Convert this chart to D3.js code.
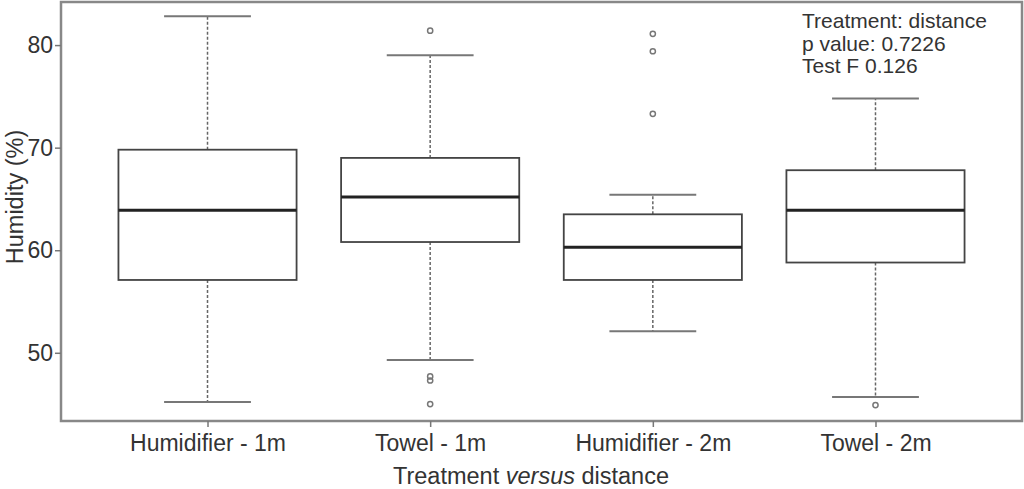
<!DOCTYPE html>
<html>
<head>
<meta charset="utf-8">
<script src="https://d3js.org/d3.v7.min.js"></script>
<style>
  body { margin: 0; background: #fff; }
  text { font-family: "Liberation Sans", Arial, sans-serif; fill: #333; }
</style>
</head>
<body>
<div id="chart"></div>
<script>
// box plot values
var categories = ["Humidifier - 1m", "Towel - 1m", "Humidifier - 2m", "Towel - 2m"];
var whiskerLow  = [45.2, 49.3, 52.1, 45.7];
var q1          = [57.1, 60.8, 57.1, 58.8];
var median      = [63.9, 65.2, 60.3, 63.9];
var q3          = [69.8, 69.0, 63.5, 67.8];
var whiskerHigh = [82.8, 79.0, 65.4, 74.8];
var outliers    = [[], [81.4, 47.7, 47.3, 45.0], [81.1, 79.4, 73.3], [44.9]];
var yTicks = [50, 60, 70, 80];
var yDomain = [43.35, 84.2];
var notes = ["Treatment: distance", "p value: 0.7226", "Test F 0.126"];

var width = 1024, height = 489;
var plot = {left: 61, right: 1022, top: 2, bottom: 421};

var svg = d3.select("#chart").append("svg")
    .attr("width", width)
    .attr("height", height);

var x = d3.scalePoint().domain(categories).range([plot.left, plot.right]).padding(0.658);
var y = d3.scaleLinear().domain(yDomain).range([plot.bottom, plot.top]);
var boxW = x.step() * 0.8;
var capW = x.step() * 0.39;

var boxes = categories.map(function(c, i) {
  return {name: c, lo: whiskerLow[i], q1: q1[i], med: median[i], q3: q3[i], hi: whiskerHigh[i], out: outliers[i]};
});

var g = svg.selectAll(".box")
    .data(boxes)
    .enter().append("g")
    .attr("class", "box")
    .attr("transform", function(d) { return "translate(" + x(d.name) + ",0)"; });

// dotted whiskers
g.append("line")
    .attr("y1", function(d) { return y(d.q3); })
    .attr("y2", function(d) { return y(d.hi); })
    .attr("stroke", "#666").attr("stroke-width", 1.5).attr("stroke-dasharray", "3,2");
g.append("line")
    .attr("y1", function(d) { return y(d.q1); })
    .attr("y2", function(d) { return y(d.lo); })
    .attr("stroke", "#666").attr("stroke-width", 1.5).attr("stroke-dasharray", "3,2");

// whisker caps
g.selectAll(".cap")
    .data(function(d) { return [d.lo, d.hi]; })
    .enter().append("line")
    .attr("class", "cap")
    .attr("x1", -capW / 2).attr("x2", capW / 2)
    .attr("y1", function(v) { return y(v); })
    .attr("y2", function(v) { return y(v); })
    .attr("stroke", "#777").attr("stroke-width", 2);

// box
g.append("rect")
    .attr("x", -boxW / 2)
    .attr("width", boxW)
    .attr("y", function(d) { return y(d.q3); })
    .attr("height", function(d) { return y(d.q1) - y(d.q3); })
    .attr("fill", "#fff")
    .attr("stroke", "#444").attr("stroke-width", 1.8);

// median
g.append("line")
    .attr("x1", -boxW / 2).attr("x2", boxW / 2)
    .attr("y1", function(d) { return y(d.med); })
    .attr("y2", function(d) { return y(d.med); })
    .attr("stroke", "#222").attr("stroke-width", 3);

// outliers
g.selectAll(".out")
    .data(function(d) { return d.out; })
    .enter().append("circle")
    .attr("class", "out")
    .attr("cy", function(v) { return y(v); })
    .attr("r", 2.6)
    .attr("fill", "none")
    .attr("stroke", "#777").attr("stroke-width", 1.5);

// frame
svg.append("rect")
    .attr("x", plot.left).attr("y", plot.top)
    .attr("width", plot.right - plot.left)
    .attr("height", plot.bottom - plot.top)
    .attr("fill", "none")
    .attr("stroke", "#888").attr("stroke-width", 2.5);

// y axis
var yAxis = svg.append("g")
    .attr("transform", "translate(" + plot.left + ",0)")
    .call(d3.axisLeft(y).tickValues(yTicks).tickSize(6).tickPadding(2).tickFormat(d3.format("d")));
yAxis.select(".domain").remove();
yAxis.selectAll(".tick line").attr("stroke", "#777").attr("stroke-width", 1.5);
yAxis.selectAll(".tick text")
    .style("font-family", "'Liberation Sans', Arial, sans-serif")
    .style("font-size", "23px").attr("fill", "#333");

// x axis
var xAxis = svg.append("g")
    .attr("transform", "translate(0," + plot.bottom + ")")
    .call(d3.axisBottom(x).tickSize(6).tickPadding(8));
xAxis.select(".domain").remove();
xAxis.selectAll(".tick line").attr("stroke", "#777").attr("stroke-width", 1.5);
xAxis.selectAll(".tick text")
    .style("font-family", "'Liberation Sans', Arial, sans-serif")
    .style("font-size", "23px").attr("fill", "#333");

// axis titles
var xt = svg.append("text")
    .attr("x", 531)
    .attr("y", 484)
    .attr("text-anchor", "middle")
    .style("font-size", "23.5px");
xt.append("tspan").text("Treatment ");
xt.append("tspan").style("font-style", "italic").text("versus");
xt.append("tspan").text(" distance");

svg.append("text")
    .attr("transform", "translate(23,197) rotate(-90)")
    .attr("text-anchor", "middle")
    .style("font-size", "23.5px")
    .text("Humidity (%)");

// test annotation
svg.append("g").selectAll("text")
    .data(notes)
    .enter().append("text")
    .attr("x", 802)
    .attr("y", function(d, i) { return 28 + i * 22.5; })
    .style("font-size", "21px")
    .text(function(d) { return d; });
</script>
</body>
</html>
